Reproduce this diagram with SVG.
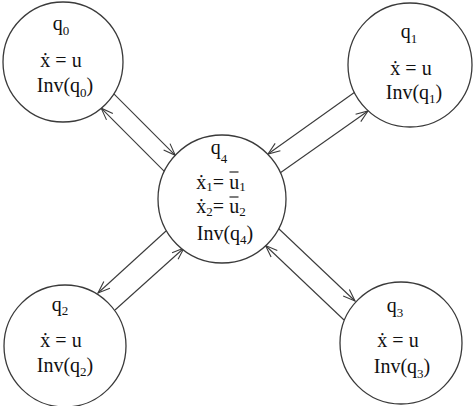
<svg xmlns="http://www.w3.org/2000/svg" width="474" height="406" viewBox="0 0 474 406">
<defs>
<style>
.n{fill:#fff;stroke:#3a3a3a;stroke-width:1.3}
.t{font-family:"Liberation Serif","Times New Roman","DejaVu Serif",serif;font-size:20px;fill:#111;text-anchor:middle}
.s{font-size:13px}
.c{stroke:#3a3a3a;stroke-width:1.1;fill:none;marker-end:url(#ah)}
.ol{stroke:#111;stroke-width:1.1}
</style>
<marker id="ah" markerUnits="userSpaceOnUse" viewBox="-13 -6 14 12" refX="0" refY="0" markerWidth="14" markerHeight="12" orient="auto"><path d="M-12,-4.5 L0,0 L-12,4.5" fill="none" stroke="#3a3a3a" stroke-width="1.1"/></marker>
</defs>
<rect width="474" height="406" fill="#fff"/>
<g id="connectors">
<path class="c" d="M113.9,93.9 L175.3,155.3"/>
<path class="c" d="M164.3,171.3 L101.2,108.2"/>
<path class="c" d="M355,92 L268,154"/>
<path class="c" d="M280,173 L368,111"/>
<path class="c" d="M166,231 L98,293"/>
<path class="c" d="M115,310 L184,248"/>
<path class="c" d="M278,228 L355,301"/>
<path class="c" d="M344,320 L265.5,245.5"/>
</g>
<g id="q0">
<circle class="n" cx="63" cy="62" r="60"/>
<text class="t" x="61" y="30">q<tspan class="s" dy="5">0</tspan></text>
<text class="t" x="61" y="67">ẋ = u</text>
<text class="t" x="65" y="92">Inv(q<tspan class="s" dy="5">0</tspan><tspan dy="-5">)</tspan></text>
</g>
<g id="q1">
<circle class="n" cx="410" cy="65" r="62"/>
<text class="t" x="409" y="37.5">q<tspan class="s" dy="5">1</tspan></text>
<text class="t" x="411" y="75">ẋ = u</text>
<text class="t" x="414" y="99">Inv(q<tspan class="s" dy="4">1</tspan><tspan dy="-4">)</tspan></text>
</g>
<g id="q4">
<circle class="n" cx="222" cy="199" r="64"/>
<text class="t" x="219" y="154">q<tspan class="s" dy="9">4</tspan></text>
<text class="t" x="221" y="189">ẋ<tspan class="s" dy="2">1</tspan><tspan dy="-2">= u</tspan><tspan class="s" dy="2">1</tspan></text>
<line class="ol" x1="229.5" y1="172" x2="238.5" y2="172"/>
<text class="t" x="221" y="213">ẋ<tspan class="s" dy="3">2</tspan><tspan dy="-3">= u</tspan><tspan class="s" dy="3">2</tspan></text>
<line class="ol" x1="229.5" y1="197" x2="238.5" y2="197"/>
<text class="t" x="225" y="240">Inv(q<tspan class="s" dy="4">4</tspan><tspan dy="-4">)</tspan></text>
</g>
<g id="q2">
<circle class="n" cx="65" cy="346" r="61"/>
<text class="t" x="60" y="311">q<tspan class="s" dy="4">2</tspan></text>
<text class="t" x="61" y="347">ẋ = u</text>
<text class="t" x="65" y="372">Inv(q<tspan class="s" dy="4">2</tspan><tspan dy="-4">)</tspan></text>
</g>
<g id="q3">
<circle class="n" cx="401" cy="343" r="61"/>
<text class="t" x="395" y="312">q<tspan class="s" dy="5">3</tspan></text>
<text class="t" x="398" y="347">ẋ = u</text>
<text class="t" x="402" y="373">Inv(q<tspan class="s" dy="5">3</tspan><tspan dy="-5">)</tspan></text>
</g>
</svg>
